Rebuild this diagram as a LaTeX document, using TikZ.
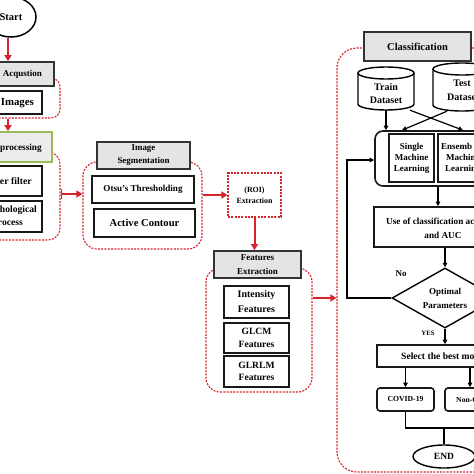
\documentclass[tikz,border=0pt]{standalone}
\usepackage{fontspec}
\setmainfont{Liberation Serif}
\usetikzlibrary{arrows.meta,shapes.geometric,calc}
\definecolor{rd}{RGB}{215,35,45}
\definecolor{hdrgray}{RGB}{228,228,228}
\definecolor{olivebd}{RGB}{155,187,89}
\newcommand\fsz[1]{\fontsize{#1}{#1}\selectfont\bfseries}
\newcommand\fsl[2]{\fontsize{#1}{#2}\selectfont\bfseries}
\begin{document}
\begin{tikzpicture}[x=1pt,y=-1pt,
  box/.style={draw=black!90, line width=1.6pt, fill=white, inner sep=0pt, align=center},
  hdr/.style={draw=black!80, line width=1.7pt, fill=hdrgray, inner sep=0pt, align=center},
  region/.style={draw=rd, line width=1.1pt, dash pattern=on 2pt off 1.3pt, inner sep=0pt},
  rarrow/.style={draw=rd, line width=2pt, -{Triangle[length=6pt,width=7pt]}},
  barrow/.style={draw=black, line width=1.2pt, -{Triangle[length=4.5pt,width=4.5pt]}},
  bline/.style={draw=black, line width=1.2pt},
  cyl/.style={draw=black, line width=1.4pt, fill=white},
  lbl/.style={inner sep=0pt, align=center},
]
\useasboundingbox (0,0) rectangle (474,474);
\clip (0,0) rectangle (474,474);
\fill[white] (0,0) rectangle (474,474);

% dashed regions
\node[region, rounded corners=9pt, minimum width=100, minimum height=40] (regAcq) at (10,98) {};
\node[region, rounded corners=12pt, minimum width=100, minimum height=88] (regPre) at (10,196) {};
\node[region, rounded corners=14pt, minimum width=119, minimum height=87] (regSeg) at (142.5,205.5) {};
\node[region, rounded corners=14pt, minimum width=106, minimum height=124] (regFeat) at (259,330) {};
\node[region, rounded corners=20pt, minimum width=223, minimum height=424] (regCls) at (448.5,260) {};

% left column
\node[ellipse, draw=black, line width=1.5pt, fill=white, inner sep=0pt, minimum width=50, minimum height=40, font=\fsz{10.5}] (start) at (11,17) {Start};
\node[hdr, minimum width=94, minimum height=24] (acq) at (7,74) {};
\node[lbl, anchor=east, font=\fsz{9}] (acqT) at (42,74) {Acqustion};
\node[box, minimum width=62, minimum height=23] (img) at (11,102.5) {};
\node[lbl, anchor=east, font=\fsz{10.8}] (imgT) at (34,103) {Images};
\node[hdr, draw=olivebd, fill=hdrgray!70, minimum width=82, minimum height=30] (pre) at (11,147) {};
\node[lbl, anchor=east, font=\fsz{9.3}] (preT) at (42,148) {processing};
\node[box, minimum width=72, minimum height=30] (filt) at (6,181) {};
\node[lbl, anchor=east, font=\fsz{9.8}] (filtT) at (32,181) {er filter};
\node[box, minimum width=72, minimum height=31] (morph) at (6,216.5) {};
\node[lbl, anchor=east, font=\fsz{9.6}] (morphT1) at (37,210) {hological};
\node[lbl, anchor=east, font=\fsz{9.6}] (morphT2) at (23,223) {rocess};

% segmentation
\node[hdr, minimum width=93, minimum height=27, font=\fsl{8.9}{13}] (seg) at (143.5,155.5) {Image\\Segmentation};
\node[box, minimum width=102, minimum height=27, font=\fsz{9.1}] (otsu) at (143,189.5) {Otsu’s Thresholding};
\node[box, minimum width=101, minimum height=28, font=\fsz{10.6}] (act) at (144.5,223) {Active Contour};
\node[draw=rd, line width=1.1pt, dash pattern=on 2pt off 1.3pt, fill=white, minimum width=53, minimum height=44, inner sep=0pt, align=center, font=\fsl{7.9}{11}] (roi) at (254.5,195) {(ROI)\\Extraction};

% features
\node[hdr, minimum width=87, minimum height=27, font=\fsl{9}{14}] (feat) at (257.5,264.5) {Features\\Extraction};
\node[box, minimum width=65, minimum height=32, font=\fsl{10}{15}] (inten) at (256.5,302) {Intensity\\Features};
\node[box, minimum width=65, minimum height=30, font=\fsl{9.6}{12.5}] (glcm) at (256.5,338) {GLCM\\Features};
\node[box, minimum width=65, minimum height=31, font=\fsl{9.6}{12.5}] (glrlm) at (256.5,371.5) {GLRLM\\Features};

% classification
\node[hdr, minimum width=107, minimum height=29, font=\fsz{10.5}] (cls) at (417.5,46.5) {Classification};
\node[inner sep=0pt, minimum width=56, minimum height=43] (train) at (386,88.5) {};
\draw[cyl] (358,73) -- (358,104) arc[start angle=180, end angle=360, x radius=28pt, y radius=6pt] -- (414,73);
\draw[cyl] (386,73) ellipse [x radius=28pt, y radius=6pt];
\node[lbl, font=\fsl{10}{13}] (trainT) at (386,94) {Train\\Dataset};
\node[inner sep=0pt, minimum width=58, minimum height=48] (test) at (462,87) {};
\draw[cyl] (433,69) -- (433,105) arc[start angle=180, end angle=360, x radius=29pt, y radius=6pt] -- (491,69);
\draw[cyl] (462,69) ellipse [x radius=29pt, y radius=6pt];
\node[lbl, font=\fsz{10}] (testT1) at (462,83) {Test};
\node[lbl, anchor=west, font=\fsz{10}] (testT2) at (447,97) {Datase};

\node[box, rounded corners=8pt, minimum width=150, minimum height=55] (ml) at (450,158.5) {};
\node[box, minimum width=45, minimum height=48, font=\fsl{9}{11}] (single) at (411.5,158) {Single\\Machine\\Learning};
\node[box, minimum width=45, minimum height=48] (ens) at (460.5,158) {};
\node[lbl, anchor=west, font=\fsz{9}] (ensT1) at (441,146) {Ensemb};
\node[lbl, anchor=west, font=\fsz{9}] (ensT2) at (446,157) {Machin};
\node[lbl, anchor=west, font=\fsz{9}] (ensT3) at (445,168) {Learnin};

\node[box, minimum width=138, minimum height=40] (use) at (443,227) {};
\node[lbl, anchor=west, font=\fsz{9.2}] (useT1) at (386,221) {Use of classification ac};
\node[lbl, font=\fsz{9.2}] (useT2) at (443,235) {and AUC};

\node[diamond, draw=black, line width=1.4pt, fill=white, minimum width=106, minimum height=60, inner sep=0pt] (opt) at (445,298) {};
\node[lbl, font=\fsl{9}{14}] (optT) at (445,298) {Optimal\\Parameters};
\node[lbl, font=\fsz{9}] (no) at (401,274) {No};
\node[lbl, font=\fsz{6.7}] (yes) at (428,333) {YES};

\node[box, minimum width=134, minimum height=22] (sel) at (444,356) {};
\node[lbl, anchor=west, font=\fsz{9.6}] (selT) at (401,356) {Select the best mo};

\node[box, rounded corners=3pt, minimum width=57, minimum height=23, font=\fsz{7.7}] (covid) at (405.5,399.5) {COVID-19};
\node[box, rounded corners=3pt, minimum width=64, minimum height=23] (ncov) at (477,399.5) {};
\node[lbl, anchor=west, font=\fsz{7.7}] (ncovT) at (456,399.5) {Non-C};
\node[ellipse, draw=black, line width=1.4pt, fill=white, inner sep=0pt, minimum width=62, minimum height=23, font=\fsz{9.5}] (endn) at (444,456.5) {END};

% red connectors
\coordinate (ax) at ([xshift=-3pt]start.south);
\draw[rarrow] (ax) -- (ax |- acq.north);
\draw[rarrow] (ax |- regAcq.south) -- (ax |- pre.north);
\draw[rd, line width=2pt, {Bar[width=10pt,line width=1.5pt]}-{Triangle[length=6pt,width=7pt]}] ([yshift=2pt]regPre.east) -- ([yshift=2pt]regPre.east -| regSeg.west);
\draw[rarrow] (roi.west -| regSeg.east) -- (roi.west);
\draw[rarrow] (roi.south) -- (roi.south |- feat.north);
\draw[rarrow] (regFeat.east |- opt.west) -- (regCls.west |- opt.west);

% black connectors
\draw[barrow] (train.south) -- (train.south |- ml.north);
\draw[barrow] ($(train.south)+(24,0)$) -- ($(ens.north |- ml.north)+(2.5,0)$);
\draw[barrow] ($(test.south)+(-15,0)$) -- ($(single.north |- ml.north)+(-9.5,0)$);
\coordinate (mlo) at ([xshift=-12pt]ml.south);
\draw[barrow] (mlo) -- (mlo |- use.north);
\draw[barrow] (use.south -| opt.north) -- (opt.north);
\coordinate (lp) at (347,160);
\draw[barrow] (opt.west) -| (lp) -- (lp -| ml.west);
\draw[barrow] (opt.south) -- (opt.south |- sel.north);
\draw[barrow] (covid.north |- sel.south) -- (covid.north);
\coordinate (nc) at ([xshift=-7pt]ncov.north);
\draw[barrow] (nc |- sel.south) -- (nc);
\coordinate (jn) at (444,428);
\draw[bline] (covid.south) -- (covid.south |- jn) -- (ncov.south |- jn) -- (ncov.south);
\draw[bline] (jn) -- (endn.north);
\end{tikzpicture}
\end{document}
